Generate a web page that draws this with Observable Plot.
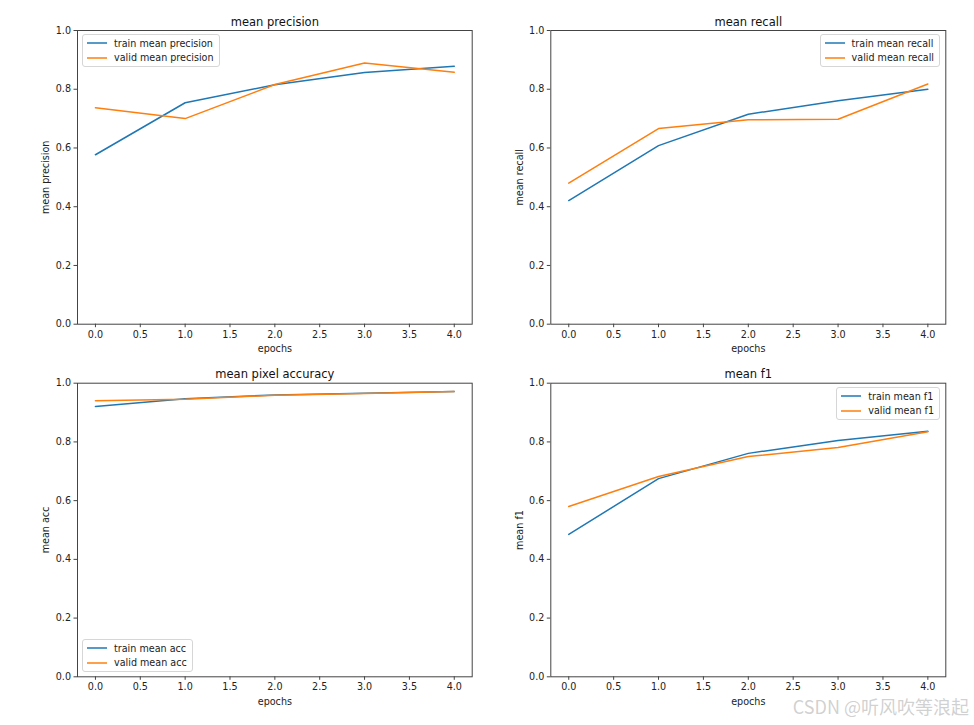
<!DOCTYPE html>
<html>
<head>
<meta charset="utf-8">
<script src="https://cdn.jsdelivr.net/npm/d3@7"></script>
<script src="https://cdn.jsdelivr.net/npm/@observablehq/plot@0.6"></script>
<style>
  body { margin: 0; background: #fff; }
  #fig { position: relative; width: 974px; height: 725px; background: #fff; font-family: "DejaVu Sans", sans-serif; overflow: hidden; }
  .panel { position: absolute; }
  .legend { position: absolute; border: 1px solid #d6d6d6; border-radius: 3px; background: rgba(255,255,255,0.85); padding: 1px 5px 1px 4px; font-size: 9.6px; color: #222; }
  .legend .row { display: flex; align-items: center; height: 14.6px; white-space: nowrap; }
  .legend svg { display: block; margin-right: 7px; }
  .wm { position: absolute; right: 5px; bottom: 6px; font-family: "Noto Sans CJK SC", sans-serif; font-size: 18px; color: rgba(170,170,170,0.55); white-space: nowrap; }
</style>
</head>
<body>
<div id="fig"></div>
<script>
const epochs = [0, 1, 2, 3, 4];
const trainPrecision = [0.577, 0.754, 0.815, 0.857, 0.878];
const validPrecision = [0.737, 0.700, 0.816, 0.889, 0.858];
const trainRecall = [0.421, 0.608, 0.715, 0.761, 0.800];
const validRecall = [0.480, 0.666, 0.696, 0.698, 0.818];
const trainAcc = [0.921, 0.947, 0.960, 0.966, 0.972];
const validAcc = [0.940, 0.945, 0.959, 0.965, 0.972];
const trainF1 = [0.485, 0.675, 0.761, 0.805, 0.836];
const validF1 = [0.580, 0.682, 0.750, 0.781, 0.835];
const xTicks = [0, 0.5, 1, 1.5, 2, 2.5, 3, 3.5, 4];
const yTicks = [0, 0.2, 0.4, 0.6, 0.8, 1.0];
const titles = ["mean precision", "mean recall", "mean pixel accuracy", "mean f1"];
const yLabels = ["mean precision", "mean recall", "mean acc", "mean f1"];
const trainNames = ["train mean precision", "train mean recall", "train mean acc", "train mean f1"];
const validNames = ["valid mean precision", "valid mean recall", "valid mean acc", "valid mean f1"];
const xLabel = "epochs";
const watermark = "CSDN @听风吹等浪起";

const BLUE = "#1f77b4", ORANGE = "#ff7f0e";
const series = [
  [trainPrecision, validPrecision],
  [trainRecall, validRecall],
  [trainAcc, validAcc],
  [trainF1, validF1]
];
const layout = [
  {left: 0, top: 0, w: 487, h: 362, mL: 77, mR: 15.3, mT: 30, mB: 38.3, leg: {left: 82, top: 34}},
  {left: 487, top: 0, w: 487, h: 362, mL: 63.3, mR: 28.7, mT: 30, mB: 38.3, leg: {right: 34, top: 34}},
  {left: 0, top: 362, w: 487, h: 363, mL: 77, mR: 15.3, mT: 20.7, mB: 48.7, leg: {left: 82, top: 639}},
  {left: 487, top: 362, w: 487, h: 363, mL: 63.3, mR: 28.7, mT: 20.7, mB: 48.7, leg: {right: 34, top: 387}}
];

const fig = document.getElementById("fig");
const fmt = d3.format(".1f");

layout.forEach((L, k) => {
  const [tr, va] = series[k];
  const rows = epochs.map((e, i) => ({epoch: e, train: tr[i], valid: va[i]}));
  const chart = Plot.plot({
    width: L.w, height: L.h,
    marginLeft: L.mL, marginRight: L.mR, marginTop: L.mT, marginBottom: L.mB,
    style: {fontFamily: "DejaVu Sans, sans-serif", fontSize: "9.6px", color: "#222", background: "transparent", overflow: "visible"},
    x: {domain: [-0.2, 4.2]},
    y: {domain: [0, 1]},
    marks: [
      Plot.axisX({ticks: xTicks, tickFormat: fmt, tickSize: 3.5, tickPadding: 3, label: xLabel, labelAnchor: "center", labelArrow: "none", labelOffset: 28, stroke: "#444"}),
      Plot.axisY({ticks: yTicks, tickFormat: fmt, tickSize: 3.5, tickPadding: 3, label: yLabels[k], labelAnchor: "center", labelArrow: "none", labelOffset: 35, stroke: "#444"}),
      Plot.line(rows, {x: "epoch", y: "train", stroke: BLUE, strokeWidth: 1.5}),
      Plot.line(rows, {x: "epoch", y: "valid", stroke: ORANGE, strokeWidth: 1.5}),
      Plot.frame({stroke: "#444", strokeWidth: 1}),
      Plot.text([titles[k]], {frameAnchor: "top", text: d => d, dy: -5, lineAnchor: "bottom", fontSize: 11.5, fill: "#111"})
    ]
  });
  const wrap = document.createElement("div");
  wrap.className = "panel";
  wrap.style.left = L.left + "px";
  wrap.style.top = L.top + "px";
  wrap.appendChild(chart);
  fig.appendChild(wrap);

  const leg = d3.select(fig).append("div").attr("class", "legend")
    .style("top", L.leg.top + "px");
  if (L.leg.left != null) leg.style("left", L.leg.left + "px");
  if (L.leg.right != null) leg.style("right", L.leg.right + "px");
  [[trainNames[k], BLUE], [validNames[k], ORANGE]].forEach(([name, c]) => {
    const r = leg.append("div").attr("class", "row");
    const s = r.append("svg").attr("width", 20).attr("height", 6);
    s.append("line").attr("x1", 0).attr("x2", 20).attr("y1", 3).attr("y2", 3)
      .attr("stroke", c).attr("stroke-width", 1.5);
    r.append("span").text(name);
  });
});

const wm = document.createElement("div");
wm.className = "wm";
wm.textContent = watermark;
fig.appendChild(wm);
</script>
</body>
</html>
